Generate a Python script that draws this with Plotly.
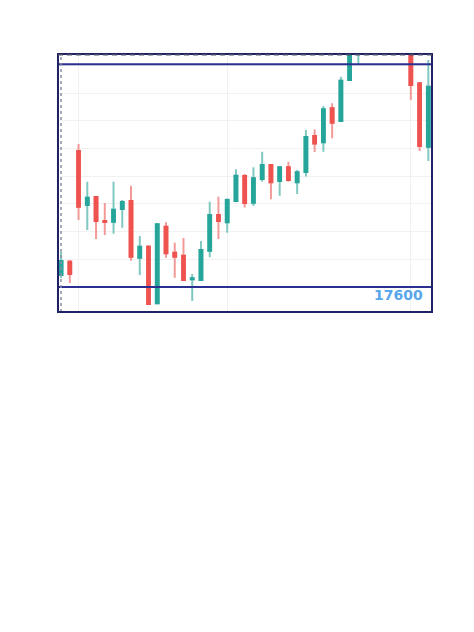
import plotly.graph_objects as go

# ---- data ----
session = list(range(43))
open_ = [17621.7, 17645.7, 17845.4, 17748.0, 17762.4, 17719.1, 17717.8, 17740.7, 17755.2, 17652.9,
         17672.7, 17570.6, 17708.8, 17661.9, 17656.5, 17613.9, 17612.6, 17665.5, 17729.9, 17716.7,
         17755.2, 17800.3, 17752.1, 17794.9, 17820.1, 17791.3, 17816.0, 17788.9, 17807.5, 17872.5,
         17861.1, 17922.4, 17899.5, 17973.5, 18040.0, 18070.0, 18095.0, 18080.0, 18110.0, 18090.0,
         18060.0, 17967.6, 17853.2]
high = [17663.2, 17648.7, 17858.0, 17790.0, 17764.2, 17751.6, 17790.0, 17757.0, 17782.8, 17692.0,
        17675.8, 17715.5, 17716.7, 17679.9, 17688.4, 17623.5, 17683.0, 17753.9, 17762.9, 17760.0,
        17812.4, 17803.9, 17816.0, 17844.1, 17821.9, 17816.0, 17826.1, 17811.0, 17883.3, 17884.2,
        17926.6, 17931.5, 17979.5, 18055.0, 18080.0, 18110.0, 18105.0, 18120.0, 18125.0, 18115.0,
        18070.0, 17968.1, 18009.6]
low = [17616.2, 17607.2, 17720.9, 17702.9, 17686.6, 17693.8, 17696.2, 17707.0, 17647.5, 17621.7,
       17569.3, 17569.3, 17652.9, 17616.8, 17612.6, 17574.7, 17612.6, 17653.6, 17686.6, 17698.0,
       17755.2, 17743.4, 17746.2, 17790.0, 17758.2, 17764.7, 17790.0, 17767.8, 17799.4, 17843.6,
       17844.1, 17868.3, 17899.5, 17973.5, 18002.4, 18060.0, 18065.0, 18070.0, 18075.0, 18050.0,
       17937.4, 17845.4, 17827.4]
close = [17646.9, 17623.5, 17744.9, 17761.1, 17719.1, 17717.3, 17739.5, 17753.4, 17654.7, 17672.7,
         17569.3, 17713.1, 17660.8, 17654.7, 17612.6, 17615.7, 17666.8, 17729.9, 17719.1, 17757.0,
         17800.8, 17751.6, 17796.1, 17820.1, 17788.9, 17816.0, 17793.1, 17807.0, 17870.7, 17858.9,
         17920.6, 17896.5, 17972.3, 18045.0, 18070.0, 18095.0, 18080.0, 18110.0, 18090.0, 18100.0,
         17964.5, 17854.4, 17961.4]
levels = [17600, 18002]
level_label = "17600"
grid_sessions = [2, 19, 40]

body_top = [max(o, c) for o, c in zip(open_, close)]
body_bot = [min(o, c) for o, c in zip(open_, close)]

UP = "#26a69a"
DOWN = "#ef5350"
UP_WICK = "#80c9c0"
DOWN_WICK = "#f39a98"

fig = go.Figure()
# wicks (lighter)
fig.add_trace(go.Candlestick(
    x=session, open=open_, high=high, low=low, close=close,
    increasing=dict(line=dict(color=UP_WICK, width=2), fillcolor=UP_WICK),
    decreasing=dict(line=dict(color=DOWN_WICK, width=2), fillcolor=DOWN_WICK),
    showlegend=False, hoverinfo="skip"))
# bodies
fig.add_trace(go.Candlestick(
    x=session, open=open_, high=body_top, low=body_bot, close=close,
    increasing=dict(line=dict(color=UP, width=2), fillcolor=UP),
    decreasing=dict(line=dict(color=DOWN, width=2), fillcolor=DOWN),
    showlegend=False))

for lv in levels:
    fig.add_shape(type="line", xref="paper", x0=0, x1=1, yref="y", y0=lv, y1=lv,
                  line=dict(color="#2b2f8f", width=2))

# dashed guides
fig.add_shape(type="line", xref="paper", x0=0.008, x1=0.008, yref="paper", y0=0, y1=1,
              line=dict(color="#8a8ea6", width=1.5, dash="3px,3px"))
# border
fig.add_shape(type="rect", xref="paper", yref="paper", x0=0, x1=1, y0=0, y1=1,
              line=dict(color="#1f2366", width=2))
fig.add_shape(type="line", xref="paper", x0=0, x1=1, yref="paper", y0=0.997, y1=0.997,
              line=dict(color="#4a4e66", width=1.5, dash="5px,4px"))

fig.add_annotation(text=level_label, xref="paper", x=0.981, xanchor="right",
                   yref="y", y=levels[0], yanchor="top", yshift=2, showarrow=False,
                   font=dict(family="DejaVu Sans", size=14, color="#5aa6ea", weight="bold"))

fig.update_layout(
    width=466, height=624,
    margin=dict(l=50, r=42, t=46, b=320),
    paper_bgcolor="white", plot_bgcolor="white",
    boxgap=0.55,
    showlegend=False,
    xaxis=dict(range=[-0.35, 42.42], rangeslider=dict(visible=False),
               tickvals=grid_sessions, showticklabels=False, ticks="",
               showgrid=True, gridcolor="#f1f1f1", gridwidth=1,
               zeroline=False, showline=False),
    yaxis=dict(range=[17554.9, 18020.4], tick0=17600, dtick=50,
               showticklabels=False, ticks="", showgrid=True,
               gridcolor="#f1f1f1", gridwidth=1, zeroline=False, showline=False),
)

fig.write_html("out.html")
